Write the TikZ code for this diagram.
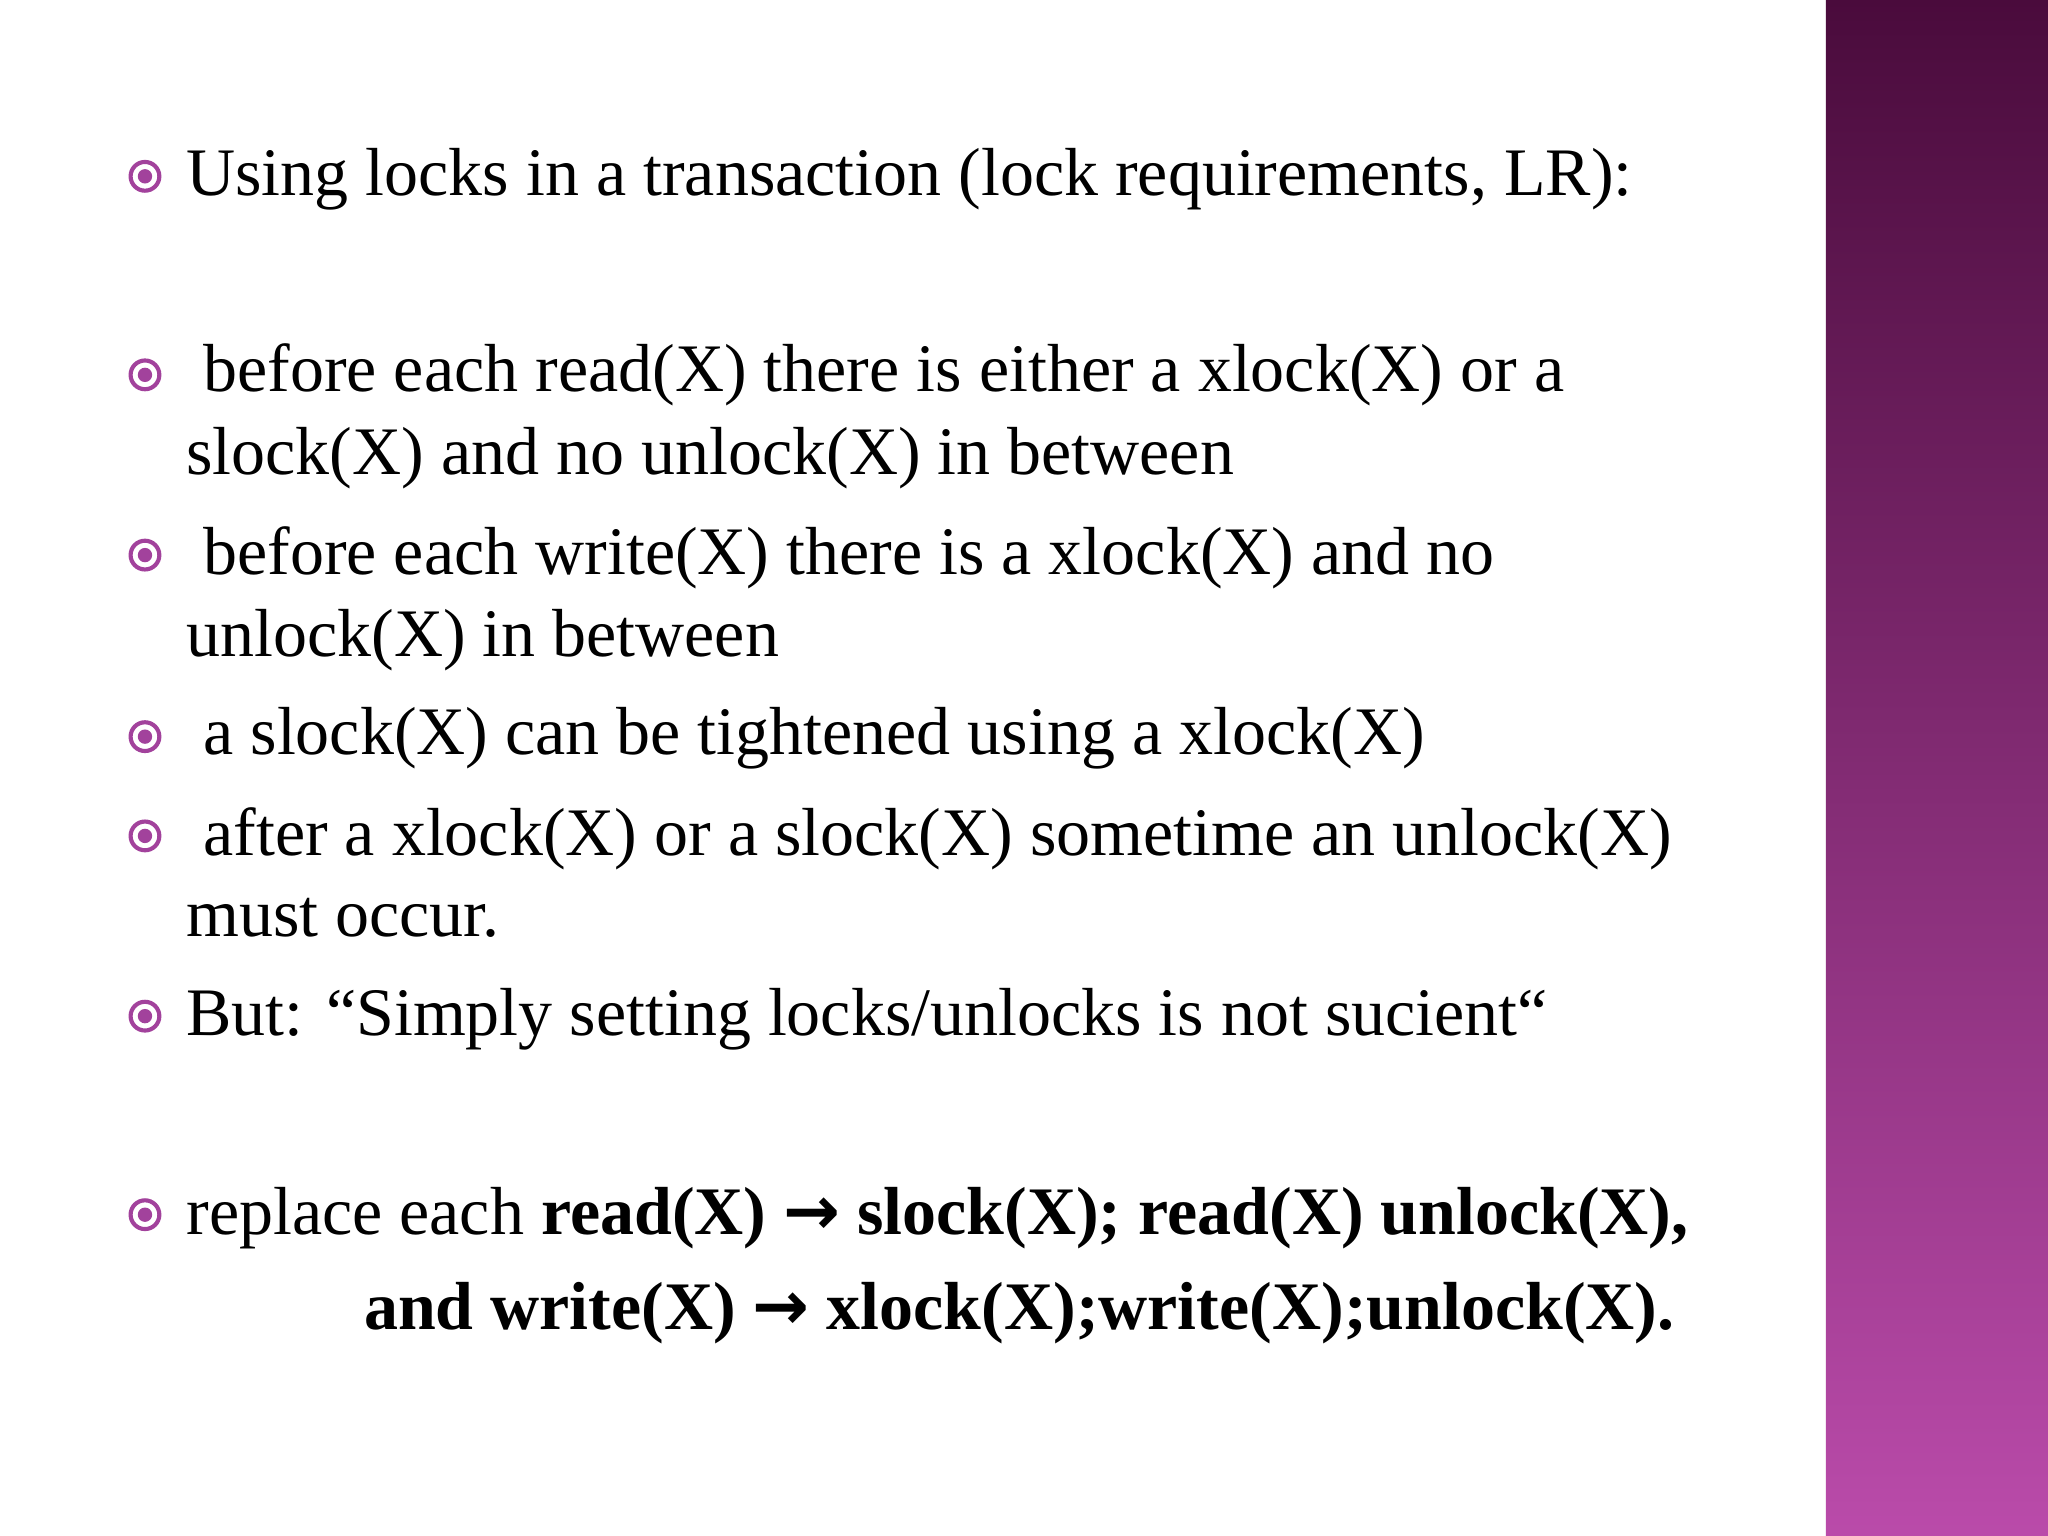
\documentclass[tikz,border=0pt]{standalone}
\usepackage{fontspec}
\setmainfont{Liberation Serif}
\newfontfamily\arrfont{DejaVu Sans}
\newcommand{\bigarr}{{\arrfont\bfseries →}}
\begin{document}
\begin{tikzpicture}[x=0.01cm,y=-0.01cm,
  txt/.style={anchor=base west,inner sep=0pt,font=\fontsize{14.8pt}{18pt}\selectfont},
  bul/.style={draw=bulc,line width=0.9pt,circle,minimum size=0.22cm,inner sep=0pt,
    path picture={\fill[bulc] (path picture bounding box.center) circle (0.055cm);}}]
\definecolor{bulc}{HTML}{A2429C}
\definecolor{bartop}{HTML}{4A0B3C}
\definecolor{barbot}{HTML}{BA4BAA}
\useasboundingbox (0,0) rectangle (1568,1176);
\fill[white] (0,0) rectangle (1568,1176);
\shade[top color=bartop,bottom color=barbot] (1398,0) rectangle (1568,1176);
\node[bul] (b1) at (111,135) {};
\node[txt] (t1) at (142,150) {Using locks in a transaction (lock requirements, LR):};
\node[bul] (b2) at (111,287) {};
\node[txt] (t2) at (142,300) {\ before each read(X) there is either a xlock(X) or a};
\node[txt] (t2b) at (142,363) {slock(X) and no unlock(X) in between};
\node[bul] (b3) at (111,425) {};
\node[txt] (t3) at (142,440) {\ before each write(X) there is a xlock(X) and no};
\node[txt] (t3b) at (142,503) {unlock(X) in between};
\node[bul] (b4) at (111,564) {};
\node[txt] (t4) at (142,578) {\ a slock(X) can be tightened using a xlock(X)};
\node[bul] (b5) at (111,640) {};
\node[txt] (t5) at (142,655) {\ after a xlock(X) or a slock(X) sometime an unlock(X)};
\node[txt] (t5b) at (142,717) {must occur.};
\node[bul] (b6) at (111,778) {};
\node[txt] (t6) at (142,793) {But: “Simply setting locks/unlocks is not sucient“};
\node[bul] (b7) at (111,930) {};
\node[txt] (t7) at (142,945) {replace each \textbf{read(X) \bigarr{} slock(X); read(X) unlock(X),}};
\node[txt] (t7b) at (278,1018) {\textbf{and write(X) \bigarr{} xlock(X);write(X);unlock(X).}};
\end{tikzpicture}
\end{document}
